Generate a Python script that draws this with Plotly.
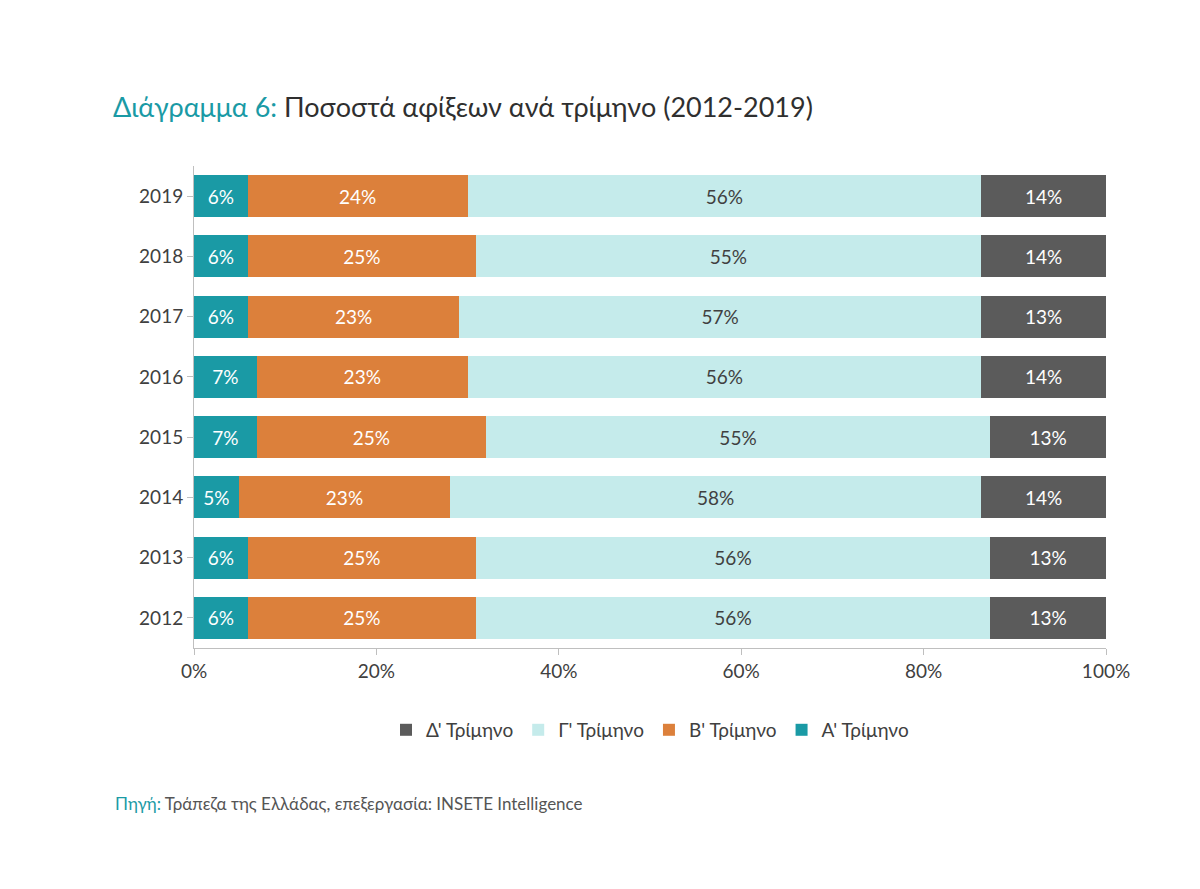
import plotly.graph_objects as go

years = ['2012', '2013', '2014', '2015', '2016', '2017', '2018', '2019']
q1 = [5.9, 5.9, 4.9, 6.9, 6.9, 5.9, 5.9, 5.9]
q2 = [25.0, 25.0, 23.2, 25.1, 23.1, 23.2, 25.0, 24.1]
q3 = [56.4, 56.4, 58.2, 55.3, 56.3, 57.2, 55.4, 56.3]
q4 = [12.7, 12.7, 13.7, 12.7, 13.7, 13.7, 13.7, 13.7]
q1_lbl = ['6%', '6%', '5%', '7%', '7%', '6%', '6%', '6%']
q2_lbl = ['25%', '25%', '23%', '25%', '23%', '23%', '25%', '24%']
q3_lbl = ['56%', '56%', '58%', '55%', '56%', '57%', '55%', '56%']
q4_lbl = ['13%', '13%', '14%', '13%', '14%', '13%', '14%', '14%']

series = [
    ("Α' Τρίμηνο", q1, q1_lbl, '#1a9aa5', 'white'),
    ("Β' Τρίμηνο", q2, q2_lbl, '#dc803b', 'white'),
    ("Γ' Τρίμηνο", q3, q3_lbl, '#c5ebeb', '#404040'),
    ("Δ' Τρίμηνο", q4, q4_lbl, '#5b5b5b', 'white'),
]

fig = go.Figure()
for name, vals, lbls, color, tcolor in series:
    fig.add_trace(go.Bar(
        y=years, x=vals, name=name, orientation='h',
        marker=dict(color=color, line=dict(width=0)),
        text=lbls, textposition='inside', insidetextanchor='middle',
        textfont=dict(color=tcolor, size=19, family='Lato'),
        hoverinfo='skip'
    ))

fig.update_layout(
    barmode='stack', bargap=0.3,
    width=1200, height=889,
    paper_bgcolor='white', plot_bgcolor='white',
    font=dict(family='Lato', size=19, color='#333333'),
    margin=dict(l=186, r=102, t=158, b=249),
    title=dict(
        text="<span style='color:#1a9aa5'>Διάγραμμα 6:</span> Ποσοστά αφίξεων ανά τρίμηνο (2012-2019)",
        x=105 / 1200, xanchor='left', y=1 - 100 / 889, yanchor='middle',
        font=dict(size=27, color='#2f2f2f', family='Lato')
    ),
    xaxis=dict(range=[0, 100], tickvals=[0, 20, 40, 60, 80, 100],
               ticktext=['0%', '20%', '40%', '60%', '80%', '100%'],
               showgrid=False, zeroline=False, showline=True,
               linecolor='#bfbfbf', ticks='outside', tickcolor='#bfbfbf',
               ticklen=6, tickfont=dict(size=19, color='#404040')),
    yaxis=dict(showgrid=False, showline=True, linecolor='#bfbfbf',
               ticks='outside', tickcolor='#bfbfbf', ticklen=6,
               tickfont=dict(size=19, color='#404040')),
    legend=dict(orientation='h', x=0.5, xanchor='center', y=-0.17, yanchor='middle',
                font=dict(size=19, color='#404040'), itemwidth=30),
    annotations=[dict(
        text="<span style='color:#1a9aa5'>Πηγή:</span> Τράπεζα της Ελλάδας, επεξεργασία: INSETE Intelligence",
        xref='paper', yref='paper', x=-81 / 912, y=-155 / 482,
        xanchor='left', yanchor='middle', showarrow=False,
        font=dict(size=17, color='#555555', family='Lato')
    )]
)

fig.write_html("out.html")
